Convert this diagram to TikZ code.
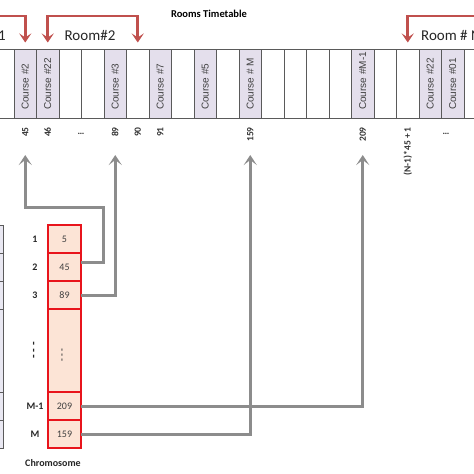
\documentclass[tikz,border=0pt]{standalone}
\usepackage{fontspec}
\setmainfont{Carlito}
\newfontfamily\arialfont{Liberation Sans}
\usetikzlibrary{arrows.meta, positioning}

\definecolor{slotline}{HTML}{5A5A5A}
\definecolor{busyfill}{HTML}{E4DFEC}
\definecolor{genered}{HTML}{E8141C}
\definecolor{genefill}{HTML}{FCE4D6}
\definecolor{roomred}{HTML}{C0504D}
\definecolor{linkgray}{HTML}{8C8C8C}
\definecolor{tablefill}{HTML}{E9E8F2}

\newcommand{\slotwidth}{22.5pt}
\newcommand{\slotheight}{68.5pt}
\newcommand{\genewidth}{33pt}
\newcommand{\geneheight}{28pt}

\tikzset{
  roomtip/.tip={Stealth[length=9pt,width=12pt,inset=4pt]},
  linktip/.tip={Stealth[length=10pt,width=13pt,inset=5pt]}
}
\tikzstyle{slot} = [% one time slot of the rooms timetable
  rectangle,
  minimum width=\slotwidth,
  minimum height=\slotheight,
  inner sep=0pt,
  outer sep=0pt,
  draw=slotline,
  line width=0.8pt,
  fill=white
  ]
\tikzstyle{busy} = [% a slot that holds a course
  fill=busyfill
  ]
\tikzstyle{course} = [% course name, written upwards
  rotate=90,
  anchor=west,
  inner sep=0pt,
  text=black!75,
  font=\arialfont\fontsize{10}{12}\selectfont
  ]
\tikzstyle{slotno} = [% number of a slot, under the timetable
  rotate=90,
  anchor=east,
  inner sep=0pt,
  text=black!80,
  font=\bfseries\fontsize{9.5}{11}\selectfont
  ]
\tikzstyle{roomlabel} = [% name of a room
  inner sep=0pt,
  text=black!85,
  font=\fontsize{15}{18}\selectfont
  ]
\tikzstyle{gene} = [% one gene of the chromosome
  rectangle,
  minimum width=\genewidth,
  minimum height=\geneheight,
  inner sep=0pt,
  outer sep=0pt,
  draw=genered,
  line width=1.5pt,
  fill=genefill,
  text=black!75,
  font=\fontsize{10}{12}\selectfont
  ]
\tikzstyle{geneno} = [% index of a gene
  text=black!85,
  font=\bfseries\fontsize{10}{12}\selectfont
  ]
\tikzstyle{rowcell} = [% row of the table on the left
  rectangle,
  minimum width=46pt,
  minimum height=\geneheight,
  inner sep=0pt,
  outer sep=0pt,
  draw=slotline,
  line width=0.8pt,
  fill=tablefill
  ]
\tikzstyle{roomarrow} = [% bracket over the slots of one room
  draw=roomred,
  line width=2.6pt,
  -roomtip
  ]
\tikzstyle{link} = [% gene value pointing to its slot
  draw=linkgray,
  line width=3pt,
  -linktip
  ]

\begin{document}
\begin{tikzpicture}[x=1pt, y=-1pt]
\useasboundingbox (0,0) rectangle (474,474);
\clip (0,0) rectangle (474,474);

%%% Timetable
\node[font=\bfseries\fontsize{10.5}{12}\selectfont] (title) at (209,14) {Rooms Timetable};

\foreach \i in {0,...,21}
  \node[slot] (cell\i) at (2.75+22.5*\i, 83.75) {};
\foreach \i/\c in {1/2, 2/22, 5/3, 7/7, 9/5, 11/{\ M}, 16/M-1, 19/22, 20/01} {
  \node[slot, busy] at (cell\i) {};
  \node[course] (course\i) at ([yshift=8pt]cell\i.south) {Course \#\c};
}

\foreach \i/\n in {1/45, 2/46, 5/89, 6/90, 7/91, 11/159, 16/209, 18/{(N-1)*45 + 1}}
  \node[slotno] (num\i) at ([yshift=-9pt]cell\i.south) {\n};
\node[slotno, rotate=-90, anchor=center] (gap1) at (81,134) {\ldots};
\node[slotno, rotate=-90, anchor=center] (gap2) at (446,134) {\ldots};

%%% Rooms
\coordinate (brk) at (0,16);
\node[roomlabel, anchor=east] (room1) at (6,35) {Room\#1};
\node[roomlabel] (room2) at (90,35) {Room\#2};
\node[roomlabel, anchor=west] (roomN) at (421,35) {Room \# N};

\draw[roomarrow] (brk -| cell0.west) -| ([yshift=7pt]cell1.north);
\draw[roomarrow, roomtip-roomtip] ([yshift=7pt]cell2.north) |- (brk -| cell6.north)
  -- ([yshift=7pt]cell6.north);
\draw[roomarrow] (brk -| cell21.east) -| ([yshift=7pt]cell18.north);

%%% Chromosome
\node[gene] (g1) at (64.5,239) {5};
\node[gene] (g2) [below=0pt of g1] {45};
\node[gene] (g3) [below=0pt of g2] {89};
\node[gene, minimum height=83pt] (gdots) [below=0pt of g3] {};
\node[gene] (gm1) [below=0pt of gdots] {209};
\node[gene] (gm) [below=0pt of gm1] {159};
\node[rotate=90, font=\bfseries\fontsize{9}{10}\selectfont, text=black!75] (gdash) at (63,355) {- - -};

\coordinate (idx) at (35,0);
\node[geneno] (i1) at (g1 -| idx) {1};
\node[geneno] (i2) at (g2 -| idx) {2};
\node[geneno] (i3) at (g3 -| idx) {3};
\node[geneno, rotate=90, font=\bfseries\fontsize{12}{12}\selectfont] (idots) at (gdots -| idx) {- - -};
\node[geneno] (im1) at (gm1 -| idx) {M-1};
\node[geneno] (im) at (gm -| idx) {M};
\node[geneno] (chromo) at (53,463) {Chromosome};

%%% Table on the left
\node[rowcell] (row1) [left=45pt of g1] {};
\node[rowcell] (row2) [below=0pt of row1] {};
\node[rowcell] (row3) [below=0pt of row2] {};
\node[rowcell, minimum height=83pt] (rowdots) [below=0pt of row3] {};
\node[rowcell] (rowm1) [below=0pt of rowdots] {};
\node[rowcell] (rowm) [below=0pt of rowm1] {};

%%% Arrows
\coordinate (tips) at (0,155);
\coordinate (bend) at (103,207);
\draw[link] ([yshift=5pt]g2.east) -| (bend) -| (num1 |- tips);
\draw[link] (g3.east) -| (num5 |- tips);
\draw[link] (gm1.east) -| (num16 |- tips);
\draw[link] (gm.east) -| (num11 |- tips);

\end{tikzpicture}
\end{document}
